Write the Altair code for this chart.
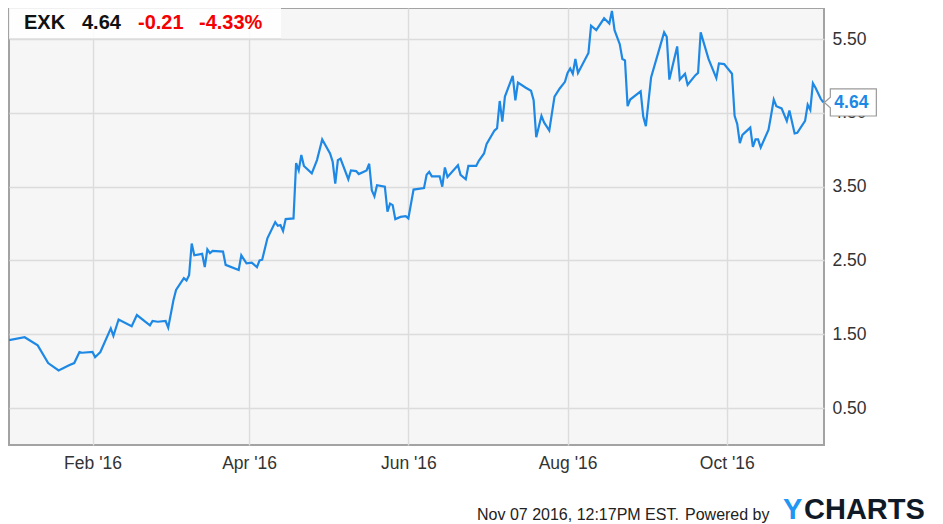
import altair as alt
import pandas as pd

# ---------------- data ----------------
BASE_DATE = "2016-01-01"          # day offsets below are counted from this date

day_offsets = [
    -1, 5, 10, 14, 18, 22, 24, 26, 27, 31, 32, 34, 38, 39, 41, 46, 48, 53, 54, 56,
    59, 60, 62, 63, 66, 67, 68, 69, 70, 73, 74, 75, 76, 77, 81, 82, 87, 88, 90, 92,
    94, 95, 96, 98, 101, 102, 103, 104, 105, 108, 109, 110, 111, 112, 115, 117, 119, 122, 123, 124,
    125, 126, 129, 130, 132, 133, 136, 137, 138, 139, 140, 143, 144, 145, 146, 147, 149, 151, 152, 154,
    158, 159, 160, 161, 164, 165, 166, 167, 171, 172, 174, 175, 178, 179, 181, 182, 185, 186, 187, 188,
    189, 192, 193, 194, 197, 199, 200, 201, 203, 204, 206, 208, 210, 212, 213, 214, 215, 216, 217, 221,
    222, 224, 227, 229, 230, 231, 233, 234, 235, 236, 237, 241, 242, 243, 245, 250, 251, 252, 255, 256,
    258, 259, 262, 263, 264, 267, 270, 271, 273, 276, 277, 278, 279, 280, 283, 284, 285, 286, 287, 290,
    291, 292, 293, 295, 297, 298, 300, 301, 304, 305, 306, 307, 308, 310, 311,
]

prices = [
    1.42, 1.46, 1.35, 1.11, 1.01, 1.08, 1.11, 1.26, 1.25, 1.26, 1.19, 1.26, 1.58, 1.48, 1.70, 1.61, 1.76, 1.62, 1.68, 1.67,
    1.68, 1.59, 1.96, 2.10, 2.26, 2.23, 2.30, 2.73, 2.57, 2.59, 2.41, 2.65, 2.60, 2.63, 2.62, 2.44, 2.37, 2.57, 2.46, 2.47,
    2.41, 2.50, 2.51, 2.80, 3.02, 2.97, 2.98, 2.90, 3.06, 3.07, 3.82, 3.72, 3.93, 3.78, 3.68, 3.86, 4.14, 3.95, 3.84, 3.54,
    3.86, 3.88, 3.60, 3.72, 3.71, 3.67, 3.72, 3.81, 3.45, 3.37, 3.52, 3.50, 3.16, 3.27, 3.25, 3.06, 3.09, 3.10, 3.07, 3.46,
    3.48, 3.66, 3.70, 3.64, 3.64, 3.50, 3.76, 3.63, 3.79, 3.66, 3.60, 3.78, 3.78, 3.85, 3.95, 4.08, 4.26, 4.29, 4.66, 4.38,
    4.72, 5.00, 4.67, 4.91, 4.84, 4.80, 4.67, 4.17, 4.46, 4.37, 4.26, 4.72, 4.83, 4.92, 5.04, 5.10, 5.03, 5.23, 5.04, 5.31,
    5.68, 5.62, 5.78, 5.71, 5.88, 5.62, 5.43, 5.23, 5.21, 4.59, 4.68, 4.79, 4.45, 4.32, 4.98, 5.59, 5.53, 4.95, 5.40, 4.95,
    5.03, 4.88, 5.01, 5.04, 5.59, 5.23, 4.97, 5.17, 5.16, 5.03, 4.46, 4.35, 4.09, 4.20, 4.30, 4.04, 4.14, 4.14, 4.03, 4.27,
    4.47, 4.68, 4.59, 4.56, 4.39, 4.53, 4.22, 4.23, 4.39, 4.61, 4.54, 4.90, 4.84, 4.69, 4.64,
]

ticker = "EXK"
last_price_label = "4.64"
change_label = "-0.21"
change_pct_label = "-4.33%"
x_tick_months = [2, 4, 6, 8, 10]            # Feb, Apr, Jun, Aug, Oct 2016
y_tick_values = [0.5, 1.5, 2.5, 3.5, 4.5, 5.5]
footer_time = "Nov 07 2016, 12:17PM EST."
footer_powered = "Powered by"
logo_y = "Y"
logo_rest = "CHARTS"

assert len(day_offsets) == len(prices)

df = pd.DataFrame({
    "date": pd.Timestamp(BASE_DATE) + pd.to_timedelta(day_offsets, unit="D"),
    "price": prices,
})
last = df.tail(1)
one = pd.DataFrame({"k": [0]})

# ---------------- styling ----------------
FONT = "Liberation Sans"
BLUE = "#1e88e5"
RED = "#f40000"
W, H = 815, 437

x_enc = alt.X(
    "date:T",
    scale=alt.Scale(domain=[alt.DateTime(year=2015, month=12, date=31),
                            alt.DateTime(year=2016, month=11, date=7, hours=6)]),
    axis=alt.Axis(
        values=[alt.DateTime(year=2016, month=m, date=1) for m in x_tick_months],
        format="%b '%y", title=None, grid=True, gridColor="#dcdcdc", gridWidth=1.4,
        ticks=False, tickSize=0, domain=False, labelFont=FONT, labelFontSize=17.5,
        labelColor="#333333", labelPadding=9, labelFlush=False, labelOverlap=False,
        zindex=0,
    ),
)
y_enc = alt.Y(
    "price:Q",
    scale=alt.Scale(domain=[0, 5.92], nice=False, zero=False),
    axis=alt.Axis(
        orient="right", values=y_tick_values, format=".2f", title=None, grid=True,
        gridColor="#dcdcdc", gridWidth=1.4, ticks=False, tickSize=0, domain=False,
        labelFont=FONT, labelFontSize=17.5, labelColor="#333333", labelPadding=8,
        labelAlign="left", labelBaseline="middle", labelOverlap=False, zindex=0,
    ),
)

header_box = alt.Chart(one).mark_rect(color="white", opacity=0.85).encode(
    x=alt.value(0), x2=alt.value(272), y=alt.value(0), y2=alt.value(30))
header_edge = alt.Chart(one).mark_rule(color="#e4e4e4", strokeWidth=1).encode(
    x=alt.value(0), x2=alt.value(272), y=alt.value(30.5))

line = alt.Chart(df).mark_line(color=BLUE, strokeWidth=2.2, clip=True).encode(x=x_enc, y=y_enc)

callout_path = "M -1 0 L -0.77 -0.2 L -0.77 -0.52 L 1 -0.52 L 1 0.52 L -0.77 0.52 L -0.77 0.2 Z"
callout = alt.Chart(last).mark_point(
    shape=callout_path, size=2704, filled=True, fill="white", stroke="#9a9a9a",
    strokeWidth=1.2, opacity=1, xOffset=27,
).encode(x="date:T", y="price:Q")
callout_text = alt.Chart(last).mark_text(
    dx=28, dy=1, align="center", baseline="middle", font=FONT, fontSize=17.5,
    fontWeight="bold", color=BLUE,
).encode(x="date:T", y="price:Q", text=alt.Text("price:Q", format=".2f"))


def label(text, x, y, size, color, weight="bold", align="left"):
    return alt.Chart(one).mark_text(
        text=text, align=align, baseline="alphabetic", font=FONT, fontSize=size,
        fontWeight=weight, color=color,
    ).encode(x=alt.value(x), y=alt.value(y))


header = [
    label(ticker, 15, 21, 20, "#111111"),
    label(last_price_label, 73, 21, 20, "#111111"),
    label(change_label, 129, 21, 20, RED),
    label(change_pct_label, 190, 21, 20, RED),
]
footer = [
    label(footer_time, 468, 512, 16, "#222222", weight="normal"),
    label(footer_powered, 676, 512, 16, "#222222", weight="normal"),
    label(logo_y, 774, 511, 29, "#2196f3"),
    label(logo_rest, 795, 511, 29, "#0f1a26"),
]

chart = alt.layer(header_box, header_edge, line, callout, callout_text, *header, *footer).properties(
    width=W, height=H, padding={"left": 0, "top": 0, "right": 0, "bottom": 0},
    background="white",
).configure_view(fill="#f6f6f6", stroke="#a3a3a3", strokeWidth=2)

chart.save("out.html", embed_options={"renderer": "svg", "actions": False})
